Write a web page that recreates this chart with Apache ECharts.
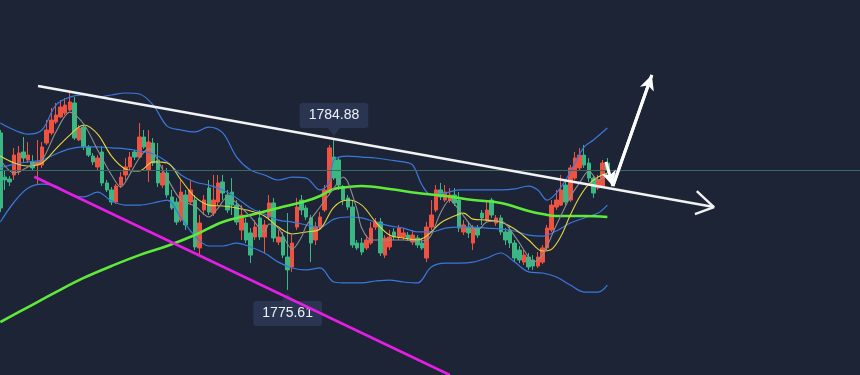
<!DOCTYPE html>
<html>
<head>
<meta charset="utf-8">
<script src="https://cdn.jsdelivr.net/npm/echarts@6/dist/echarts.min.js"></script>
<style>
html,body{margin:0;padding:0;background:#1d2436;}
#chart{width:860px;height:375px;}
</style>
</head>
<body>
<div id="chart"></div>
<script>
// candles: [open, close, low, high]
const candles = [
[1785.25,1780.64,1780.40,1785.43],[1782.54,1782.36,1781.75,1782.97],[1782.42,1782.24,1781.99,1782.60],
[1782.67,1783.89,1782.36,1784.33],[1782.85,1784.02,1782.67,1784.45],[1784.08,1783.71,1783.47,1785.00],
[1783.59,1783.89,1783.40,1784.69],[1783.47,1783.10,1782.97,1783.89],[1783.28,1783.47,1782.05,1784.82],
[1783.28,1784.39,1783.10,1784.69],[1784.63,1785.43,1784.51,1786.04],[1785.25,1786.04,1785.12,1786.78],
[1785.92,1786.35,1785.80,1787.09],[1786.23,1786.84,1786.17,1787.27],[1786.47,1786.96,1786.35,1787.39],
[1786.66,1787.15,1786.60,1787.70],[1787.09,1784.94,1784.82,1787.45],[1784.82,1785.55,1784.76,1785.74],
[1785.61,1784.39,1784.20,1785.74],[1784.39,1783.89,1783.77,1784.51],[1783.83,1783.47,1783.28,1784.02],
[1783.16,1783.71,1782.97,1783.89],[1784.08,1782.18,1781.99,1784.45],[1782.18,1781.75,1781.62,1782.36],
[1781.75,1781.01,1780.82,1781.93],[1781.01,1781.99,1780.89,1782.11],[1782.05,1782.54,1781.87,1782.85],
[1782.67,1783.16,1782.36,1783.71],[1783.16,1783.77,1782.97,1784.08],[1784.08,1783.77,1783.59,1784.20],
[1783.77,1785.00,1783.71,1785.86],[1785.00,1784.39,1784.27,1785.43],[1782.97,1784.69,1782.24,1785.43],
[1784.63,1783.40,1783.22,1784.94],[1783.59,1782.18,1781.93,1784.63],[1782.05,1782.79,1781.87,1783.28],
[1782.79,1781.44,1781.26,1783.10],[1781.32,1780.64,1780.52,1781.75],[1781.01,1779.78,1779.60,1781.26],
[1779.90,1781.62,1779.78,1782.36],[1781.44,1779.60,1779.29,1781.75],[1781.01,1781.75,1780.82,1782.36],
[1781.13,1778.25,1778.06,1781.44],[1778.19,1779.72,1777.75,1780.21],[1780.52,1781.13,1780.21,1781.44],
[1781.87,1780.39,1780.21,1782.36],[1780.33,1781.13,1780.15,1782.67],[1781.01,1782.18,1780.82,1782.67],
[1782.24,1781.56,1781.13,1782.67],[1781.44,1780.52,1780.33,1781.75],[1781.62,1780.82,1780.21,1782.48],
[1780.82,1779.78,1779.60,1781.13],[1779.29,1780.21,1778.68,1780.82],[1779.72,1778.68,1778.49,1780.03],
[1779.11,1777.75,1777.26,1779.41],[1778.86,1779.47,1778.68,1779.90],[1780.03,1778.86,1778.68,1780.52],
[1778.86,1779.60,1777.88,1779.90],[1780.09,1780.95,1779.90,1781.44],[1780.95,1778.80,1778.55,1781.26],
[1778.55,1778.86,1778.37,1779.29],[1778.86,1777.75,1777.57,1779.17],[1777.63,1776.84,1775.61,1780.33],
[1777.02,1778.49,1776.72,1778.98],[1779.47,1780.70,1779.29,1781.26],[1781.13,1780.52,1780.21,1781.44],
[1780.64,1780.09,1779.90,1780.82],[1780.03,1778.49,1777.32,1780.21],[1778.68,1779.47,1778.37,1779.78],
[1779.47,1780.09,1779.29,1780.39],[1780.52,1781.75,1780.39,1782.05],[1781.62,1784.33,1781.44,1784.51],
[1783.77,1782.48,1782.36,1784.88],[1783.59,1782.05,1781.75,1783.77],[1781.93,1781.13,1780.82,1782.05],
[1781.26,1780.70,1780.52,1781.44],[1780.70,1778.37,1778.19,1781.13],[1778.49,1778.19,1778.06,1778.68],
[1778.49,1777.94,1777.75,1778.80],[1778.19,1778.68,1778.06,1778.98],[1778.49,1779.41,1778.37,1779.78],
[1779.47,1779.78,1779.29,1780.03],[1779.78,1777.88,1777.69,1780.03],[1777.75,1778.80,1777.57,1778.98],
[1778.25,1778.86,1778.06,1779.29],[1779.17,1778.86,1778.68,1779.41],[1778.86,1779.41,1778.68,1779.60],
[1778.86,1779.11,1778.68,1779.41],[1778.98,1778.80,1778.62,1779.17],[1778.55,1778.98,1778.37,1779.29],
[1778.80,1778.37,1778.19,1778.98],[1778.49,1778.19,1778.06,1778.80],[1777.57,1779.47,1777.32,1779.78],
[1779.47,1780.21,1779.29,1781.13],[1780.52,1781.75,1780.39,1782.05],[1781.75,1781.32,1781.13,1782.18],
[1781.13,1781.62,1781.01,1782.05],[1781.13,1781.44,1780.95,1781.87],[1781.44,1780.95,1780.76,1781.87],
[1781.13,1779.41,1779.17,1781.62],[1779.17,1779.60,1778.98,1779.90],[1779.47,1779.11,1778.80,1779.78],
[1778.49,1779.41,1778.06,1779.60],[1779.41,1778.98,1778.80,1779.60],[1780.33,1780.03,1779.60,1780.52],
[1779.90,1780.52,1779.78,1781.13],[1781.13,1780.21,1780.03,1781.26],[1779.72,1780.03,1779.54,1780.21],
[1780.03,1779.17,1778.98,1780.21],[1779.17,1778.68,1778.37,1779.41],[1779.29,1778.49,1778.19,1779.54],
[1778.49,1777.57,1777.32,1778.68],[1778.06,1777.45,1777.26,1778.31],[1777.32,1777.75,1777.14,1778.06],
[1777.63,1777.02,1776.84,1777.88],[1777.45,1777.08,1776.84,1777.75],[1777.08,1777.63,1776.96,1777.94],
[1777.32,1778.19,1777.20,1778.37],[1778.19,1779.41,1778.06,1779.60],[1779.29,1780.82,1779.17,1781.13],
[1780.70,1781.13,1780.52,1781.75],[1780.82,1781.75,1780.76,1782.67],[1782.05,1781.01,1780.82,1782.36],
[1781.13,1783.10,1781.01,1783.28],[1782.48,1783.71,1782.36,1784.08],[1783.10,1783.89,1782.97,1784.33],
[1783.89,1783.28,1783.10,1784.51],[1783.40,1782.48,1782.24,1783.71],[1782.48,1781.56,1781.26,1782.67],
[1781.87,1782.36,1781.75,1782.67],[1781.99,1783.40,1781.87,1783.59],[1783.40,1782.95,1782.79,1783.71]
];

// indicator lines: [candle index, price]
const bollUpper = [[0,1785.86],[3,1785.43],[6,1785.18],[9,1785.43],[12,1786.96],[15,1787.45],[18,1787.58],[21,1787.45],[24,1787.58],[27,1787.70],[30,1787.64],[33,1786.96],[36,1785.67],[39,1785.43],[42,1785.31],[45,1785.61],[48,1785.25],[51,1783.77],[54,1782.97],[57,1782.67],[60,1782.36],[63,1782.54],[66,1782.48],[69,1781.75],[71,1782.24],[72,1783.59],[75,1783.83],[78,1783.77],[81,1783.71],[84,1783.59],[87,1783.47],[89,1783.28],[91,1782.05],[93,1781.44],[96,1781.56],[99,1781.75],[102,1781.75],[105,1781.75],[108,1781.75],[111,1781.81],[114,1781.99],[116,1781.75],[118,1781.13],[120,1781.56],[122,1782.36],[124,1783.40],[126,1784.39],[128,1784.82],[131,1785.55]];
const bollMid = [[0,1783.10],[3,1783.34],[6,1783.47],[9,1783.59],[12,1783.96],[15,1784.27],[18,1784.39],[21,1784.39],[24,1784.33],[27,1784.27],[30,1784.14],[33,1783.96],[36,1783.47],[39,1782.67],[42,1782.24],[45,1782.05],[48,1781.75],[51,1781.26],[54,1780.64],[57,1780.27],[60,1779.90],[63,1779.78],[66,1779.60],[69,1779.47],[72,1779.96],[75,1780.09],[78,1780.03],[81,1779.78],[84,1779.54],[87,1779.41],[90,1779.17],[93,1779.17],[96,1779.41],[99,1779.47],[102,1779.47],[105,1779.41],[108,1779.35],[111,1779.23],[114,1778.98],[117,1778.92],[120,1779.23],[123,1779.72],[126,1780.03],[129,1780.33],[131,1780.82]];
const bollLower = [[0,1779.78],[3,1781.01],[6,1781.87],[9,1782.11],[12,1781.99],[15,1781.50],[18,1781.32],[21,1781.62],[24,1781.07],[27,1780.82],[30,1780.82],[33,1780.95],[36,1781.13],[39,1780.03],[42,1778.92],[45,1778.31],[48,1778.31],[51,1778.49],[54,1778.25],[57,1777.88],[60,1777.32],[63,1776.96],[66,1776.84],[69,1776.96],[72,1776.10],[75,1776.04],[78,1776.04],[81,1776.16],[84,1776.22],[87,1776.10],[90,1776.04],[93,1777.02],[96,1777.26],[99,1777.26],[102,1777.32],[105,1777.57],[108,1777.88],[111,1777.32],[114,1776.72],[117,1776.65],[120,1776.41],[123,1775.91],[126,1775.48],[129,1775.48],[131,1775.91]];
const maFast = [[0,1783.59],[3,1782.79],[6,1783.16],[9,1783.59],[12,1785.31],[15,1786.53],[18,1785.80],[21,1784.20],[24,1782.67],[26,1781.93],[27,1782.24],[30,1783.71],[32,1784.27],[33,1784.08],[36,1782.48],[39,1781.13],[42,1780.76],[45,1780.09],[47,1780.64],[49,1781.32],[51,1780.95],[54,1780.09],[57,1779.17],[58,1779.66],[60,1779.41],[63,1778.12],[65,1778.86],[66,1779.54],[69,1780.70],[72,1781.87],[74,1782.54],[75,1782.24],[77,1780.52],[78,1779.41],[80,1778.68],[84,1778.68],[87,1778.68],[90,1778.62],[92,1778.68],[93,1778.98],[95,1780.33],[97,1781.13],[99,1780.52],[102,1779.41],[103,1779.29],[105,1779.78],[108,1779.84],[111,1778.92],[114,1777.63],[115,1777.32],[117,1777.75],[120,1779.60],[123,1781.32],[125,1782.18],[127,1782.91],[129,1782.36],[131,1782.73]];
const maMid = [[0,1783.83],[3,1783.40],[6,1783.22],[9,1783.40],[12,1784.27],[15,1785.12],[18,1785.74],[21,1785.18],[24,1783.83],[27,1783.04],[30,1782.91],[33,1783.47],[36,1783.40],[39,1782.36],[42,1781.32],[45,1780.82],[48,1780.76],[51,1780.64],[54,1780.46],[57,1780.15],[60,1779.47],[63,1779.05],[66,1779.17],[69,1779.35],[72,1780.70],[75,1781.13],[78,1780.82],[81,1779.78],[84,1778.98],[87,1778.80],[90,1778.68],[92,1778.92],[95,1779.72],[98,1780.15],[100,1780.33],[102,1779.96],[105,1779.90],[108,1779.78],[111,1779.35],[114,1778.68],[117,1778.00],[119,1778.12],[121,1778.92],[123,1780.21],[125,1781.32],[127,1782.11],[129,1782.54],[131,1782.79]];
const maSlow = [[0,1773.64],[6,1774.56],[12,1775.48],[18,1776.35],[24,1777.08],[30,1777.75],[36,1778.31],[42,1778.98],[48,1779.78],[54,1780.21],[60,1780.64],[66,1781.07],[69,1781.38],[72,1781.81],[75,1781.93],[78,1781.99],[84,1781.81],[90,1781.56],[96,1781.38],[102,1781.13],[108,1780.95],[114,1780.46],[117,1780.27],[120,1780.15],[126,1780.15],[131,1780.09]];

// hand-drawn analysis lines: [candle index, price]
const resistanceLine = [[8.14,1788.13],[154.0,1780.70]];
const resistanceHead = [[150.3,1781.68],[154.0,1780.70],[149.9,1780.27]];
const supportLine = [[7.34,1782.56],[97.0,1770.39]];
const arrowDown = [[130.7,1783.47],[132.2,1781.99]];
const arrowUp = [[132.2,1781.99],[140.6,1788.81]];

const highMark = {idx: 72, price: 1784.88};
const lowMark = {idx: 62, price: 1775.61};

const UP = '#ef5241', DOWN = '#3bb784';
const chart = echarts.init(document.getElementById('chart'), null, {renderer: 'canvas'});

function lineSeries(data, color, width, smooth, z) {
  return {type: 'line', data: data, showSymbol: false, symbol: 'none', smooth: smooth,
    lineStyle: {color: color, width: width}, z: z || 3, silent: true};
}
const lastClose = candles[candles.length - 1][1];
const BOX = '#2a3651';
function callout(mark, below) {
  return {
    coord: [mark.idx, mark.price], symbol: 'triangle', symbolRotate: below ? 0 : 180,
    symbolSize: [12, 8], symbolOffset: [0, below ? 7 : -7],
    itemStyle: {color: BOX},
    label: {
      show: true, position: below ? 'bottom' : 'top', distance: 0,
      formatter: mark.price.toFixed(2), color: '#eef1f6', fontSize: 14,
      fontFamily: 'Liberation Sans, Arial, sans-serif',
      backgroundColor: BOX, borderRadius: 3, padding: [4, 9, 4, 9], lineHeight: 17
    }
  };
}

chart.setOption({
  animation: false,
  backgroundColor: '#1d2436',
  grid: {left: 0, right: 0, top: 0, bottom: 0},
  xAxis: {type: 'value', min: -0.065, max: 185.52, show: false},
  yAxis: {type: 'value', min: 1770.39, max: 1793.41, show: false, splitLine: {show: false}},
  series: [
    {
      type: 'candlestick',
      data: candles.map((c, i) => [i, c[0], c[1], c[2], c[3]]),
      encode: {x: 0, y: [1, 2, 3, 4]},
      barWidth: 4,
      itemStyle: {color: UP, color0: DOWN, borderColor: UP, borderColor0: DOWN, borderWidth: 1},
      z: 2,
      markLine: {
        silent: true, symbol: 'none', label: {show: false},
        lineStyle: {color: '#3b6a66', width: 1, type: 'solid'},
        data: [{yAxis: lastClose}]
      },
      markPoint: {
        silent: true,
        data: [callout(highMark, false), callout(lowMark, true)]
      }
    },
    lineSeries(bollUpper, '#3a78dc', 1.2, 0.35),
    lineSeries(bollMid, '#3a78dc', 1.2, 0.35),
    lineSeries(bollLower, '#3a78dc', 1.2, 0.35),
    lineSeries(maSlow, '#5fea3a', 2.6, 0.4, 4),
    lineSeries(maMid, '#e7d43c', 1.1, 0.35, 4),
    lineSeries(maFast, '#8f8f8f', 1.1, 0.3, 4),
    lineSeries(supportLine, '#e51ee5', 2.6, false, 5),
    lineSeries(resistanceLine, '#f2f2f2', 2.4, false, 6),
    lineSeries(resistanceHead, '#f2f2f2', 2.4, false, 6),
    {
      type: 'line', data: arrowUp, showSymbol: false, symbol: 'none', silent: true, z: 7,
      lineStyle: {color: '#ffffff', width: 3},
      markLine: {
        silent: true, symbol: ['none', 'arrow'], symbolSize: [11, 15], label: {show: false},
        lineStyle: {color: '#ffffff', width: 3, type: 'solid'},
        data: [
          [{coord: arrowDown[0]}, {coord: arrowDown[1]}],
          [{coord: arrowUp[0]}, {coord: arrowUp[1]}]
        ]
      }
    }
  ]
});
</script>
</body>
</html>
